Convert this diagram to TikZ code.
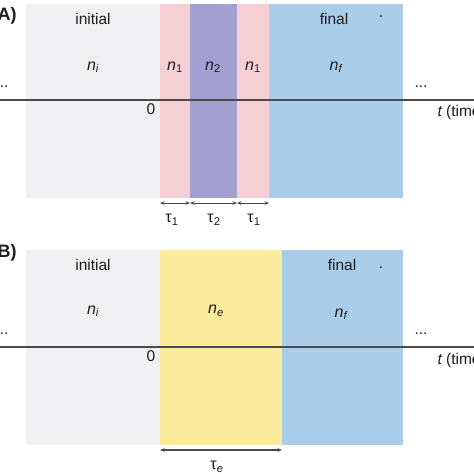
\documentclass[tikz,border=0pt]{standalone}
\usepackage{fontspec}
\setmainfont{Liberation Sans}
\usetikzlibrary{arrows.meta,positioning}
\definecolor{TLInit}{HTML}{F0F0F3}
\definecolor{TLPink}{HTML}{F6CFD5}
\definecolor{TLPurple}{HTML}{A39FD0}
\definecolor{TLBlue}{HTML}{AACDEA}
\definecolor{TLYellow}{HTML}{FAEC9C}
\definecolor{TLInk}{HTML}{1E1E1E}
\definecolor{TLAxis}{HTML}{4A4A4A}
\tikzset{
  axis/.style={TLAxis,line width=1.3pt},
  span/.style={{Stealth[length=4.5pt,width=3.6pt]}-{Stealth[length=4.5pt,width=3.6pt]},TLAxis,line width=0.8pt},
  word/.style={text=TLInk,font=\fontsize{15.5}{18}\selectfont},
  sym/.style={text=TLInk,font=\fontsize{16}{19}\selectfont\itshape},
  tau/.style={text=TLInk,font=\fontsize{16}{19}\selectfont},
  panelname/.style={text=TLInk,font=\fontsize{18}{21}\selectfont\bfseries},
}
\newcommand{\sub}[1]{\textsubscript{#1}}
\begin{document}
\begin{tikzpicture}[x=1pt,y=-1pt]
  \useasboundingbox[clip] (0,0) rectangle (474,474);
  \fill[white] (0,0) rectangle (474,474);

  % panel A
  \fill[TLInit]   (26,4) rectangle (160,198);
  \fill[TLPink]   (160,4) rectangle (190,198);
  \fill[TLPurple] (190,4) rectangle (237,198);
  \fill[TLPink]   (237,4) rectangle (269,198);
  \fill[TLBlue]   (269,4) rectangle (403,198);
  \draw[axis] (0,100) -- (474,100);
  \node[panelname,anchor=west] (lblA) at (-6,16) {A)};
  \node[word] (initA) at (93,19) {initial};
  \node[word] (finA) at (334,19) {final};
  \node[word] (dotA) at (381,17) {.};
  \node[sym] (niA) at (93,67) {n\sub{i}};
  \node[sym] (n1a) at (175,67) {n\sub{\upshape 1}};
  \node[sym] (n2) at (213,67) {n\sub{\upshape 2}};
  \node[sym] (n1b) at (253,67) {n\sub{\upshape 1}};
  \node[sym] (nfA) at (336,67) {n\sub{f}};
  \node[word] (zeroA) at (151,109) {0};
  \node[word] (dotsLA) at (2,87) {...};
  \node[word] (dotsRA) at (421,87) {...};
  \node[word,anchor=west] (timeA) at (434,112) {\itshape t\upshape\ (time)};
  \coordinate (a0) at (160,203);
  \coordinate (a1) at (190,203);
  \coordinate (a2) at (237,203);
  \coordinate (a3) at (269,203);
  \draw[span] (a0) -- (a1);
  \draw[span] (a1) -- (a2);
  \draw[span] (a2) -- (a3);
  \node[tau] (t1a) at (172,220) {τ\sub{1}};
  \node[tau] (t2) at (214,220) {τ\sub{2}};
  \node[tau] (t1b) at (254,220) {τ\sub{1}};

  % panel B
  \fill[TLInit]   (26,250) rectangle (160,445);
  \fill[TLYellow] (160,250) rectangle (282,445);
  \fill[TLBlue]   (282,250) rectangle (403,445);
  \draw[axis] (0,347) -- (474,347);
  \node[panelname,anchor=west] (lblB) at (-6,253) {B)};
  \node[word] (initB) at (93,265) {initial};
  \node[word] (finB) at (342,265) {final};
  \node[word] (dotB) at (381,268) {.};
  \node[sym] (niB) at (93,311) {n\sub{i}};
  \node[sym] (ne) at (216,311) {n\sub{e}};
  \node[sym] (nfB) at (341,314) {n\sub{f}};
  \node[word] (zeroB) at (151,356) {0};
  \node[word] (dotsLB) at (2,334) {...};
  \node[word] (dotsRB) at (421,334) {...};
  \node[word,anchor=west] (timeB) at (434,360) {\itshape t\upshape\ (time)};
  \coordinate (b0) at (160,450);
  \coordinate (b1) at (282,450);
  \draw[span,line width=1.1pt] (b0) -- (b1);
  \node[tau] (te) at (217,467) {τ\sub{\itshape e}};
\end{tikzpicture}
\end{document}
